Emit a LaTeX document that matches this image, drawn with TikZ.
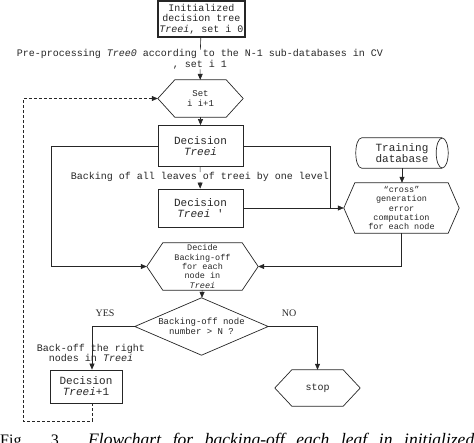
\documentclass[tikz,border=0pt]{standalone}
\usepackage{fontspec}
\setmainfont{Liberation Serif}
\setmonofont{Liberation Mono}
\usetikzlibrary{arrows.meta,calc}
\newcommand\hexpath[2]{\draw[shapeline] (#1.west) -- ([xshift=#2]#1.north west) -- ([xshift=-#2]#1.north east) -- (#1.east) -- ([xshift=-#2]#1.south east) -- ([xshift=#2]#1.south west) -- cycle;}
\begin{document}
\begin{tikzpicture}[x=1pt,y=-1pt,
  shapeline/.style={draw=black!85,line width=0.7pt},
  conn/.style={draw=black!85,line width=0.6pt},
  arr/.style={conn,-{Triangle[length=6pt,width=5pt]}},
  tx/.style={inner sep=0pt,align=center,text=black!85},
  box/.style={tx,draw=black!85,line width=0.8pt,rectangle},
  shp/.style={tx,rectangle},
  m10/.style={font=\ttfamily\fontsize{10}{10.5}\selectfont},
  m11/.style={font=\ttfamily\fontsize{11}{11}\selectfont},
  m9/.style={font=\ttfamily\fontsize{9}{9.6}\selectfont},
  m85/.style={font=\ttfamily\fontsize{8.5}{9.3}\selectfont}]
\useasboundingbox (0,0) rectangle (474,442);
\clip (0,0) rectangle (474,442);

\node[box,m10,minimum width=87pt,minimum height=36pt,line width=1.1pt] (init) at (201.5,19) {Initialized\\decision tree\\\textit{Treei}, set i 0};
\node[tx,m10] (pre) at (200,59.5) {Pre-processing \textit{Tree0} according to the N-1 sub-databases in CV\\, set i 1};
\node[shp,m9,minimum width=85pt,minimum height=37pt] (set) at (200.5,98.5) {Set\\i i+1};
\hexpath{set}{17pt}
\node[box,m11,minimum width=85pt,minimum height=41pt] (t1) at (200.5,146) {Decision\\\textit{Treei}};
\node[tx,m10] (back) at (200,177) {Backing of all leaves of treei by one level};
\node[box,m11,minimum width=85pt,minimum height=38pt] (t2) at (200.5,208) {Decision\\\textit{Treei} '};
% cylinder drawn by hand
\node[shp,m11,minimum width=92pt,minimum height=30pt] (db) at (402,153) {Training\\database};
\draw[shapeline] ([xshift=-6pt]db.north east) -- ([xshift=6pt]db.north west)
  .. controls ([xshift=-2pt]db.north west) and ([xshift=-2pt]db.south west) .. ([xshift=6pt]db.south west)
  -- ([xshift=-6pt]db.south east);
\draw[shapeline] ([xshift=-6pt]db.east) ellipse [x radius=6pt, y radius=15pt];
\node[shp,m85,minimum width=115pt,minimum height=50pt] (cross) at (401.5,208) {“cross”\\generation\\error\\computation\\for each node};
\hexpath{cross}{11pt}
\node[shp,m85,minimum width=111pt,minimum height=47pt] (decide) at (202.5,266.5) {Decide\\Backing-off\\for each\\node in\\\textit{Treei}};
\hexpath{decide}{16pt}
\node[shp,m9,minimum width=133pt,minimum height=57pt] (dia) at (201.5,326.5) {Backing-off node\\number > N ?};
\draw[shapeline] (dia.west) -- (dia.north) -- (dia.east) -- (dia.south) -- cycle;
\node[tx,font=\fontsize{10}{10}\selectfont] (yes) at (105,313) {YES};
\node[tx,font=\fontsize{10}{10}\selectfont] (no) at (289,313) {NO};
\node[tx,m10] (lab) at (91,353) {Back-off the right\\nodes in \textit{Treei}};
\node[box,m11,minimum width=72pt,minimum height=33pt] (t3) at (86,386.5) {Decision\\\textit{Treei}+1};
\node[shp,m10,minimum width=85pt,minimum height=36pt] (stop) at (317.5,388) {stop};
\hexpath{stop}{17pt}
\node[tx,anchor=base west,font=\fontsize{16}{16}\selectfont,text=black] (cap) at (0,445) {\makebox[474pt][s]{Fig. 3. {\fontsize{17.5}{17.5}\selectfont\itshape Flowchart for backing-off each leaf in initialized}}};

\coordinate (lft) at (51,0);
\coordinate (mid) at (330,0);
\coordinate (dl) at (23,421);

\draw[conn] (init) -- (pre);
\draw[arr] (pre) -- (set);
\draw[arr] (set) -- (t1);
\draw[conn] (t1) -- (back);
\draw[arr] (back) -- (t2);
\draw[arr] (t1.west) -| (lft |- decide.west) -- (decide.west);
\draw[conn] (t1.east) -| (mid |- cross.west);
\draw[arr] (t2.east) -- (cross.west);
\draw[arr] (db.south) -- (db.south |- cross.north);
\draw[arr] (cross.south) |- (decide.east);
\draw[arr] (decide) -- (dia);
\draw[arr] (dia.west) -| ([xshift=6pt]t3.north);
\draw[arr] (dia.east) -| (stop.north);
\draw[arr,densely dashed] ([xshift=6pt]t3.south) |- (dl) |- (set.west);
\end{tikzpicture}
\end{document}
